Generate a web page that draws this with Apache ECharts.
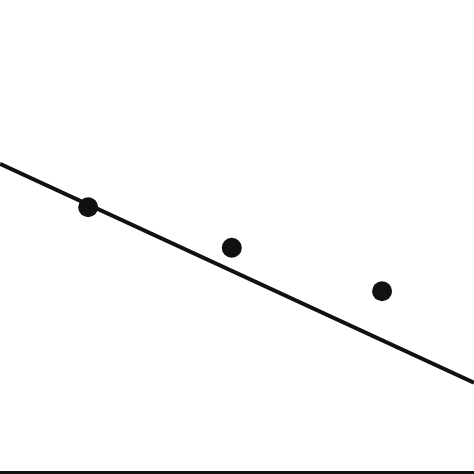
<!DOCTYPE html>
<html>
<head>
<meta charset="utf-8">
<script src="https://cdn.jsdelivr.net/npm/echarts@6/dist/echarts.min.js"></script>
<style>
  html, body { margin: 0; padding: 0; background: #fff; }
  #main { width: 474px; height: 474px; }
</style>
</head>
<body>
<div id="main"></div>
<script>
// data points and fitted line
var pointsX = [1.86, 4.89, 8.06]
var pointsY = [5.61, 4.75, 3.83]
var lineX = [0, 10]
var lineY = [6.53, 1.89]

var points = pointsX.map(function(x, i) { return [x, pointsY[i]] })
var fit = lineX.map(function(x, i) { return [x, lineY[i]] })

var myChart = echarts.init(document.querySelector('#main'))
var option = {
    backgroundColor: '#fff',
    animation: false,
    grid: { left: 0, right: 0, top: 0, bottom: 2 },
    xAxis: {
        type: 'value',
        min: 0,
        max: 10,
        axisLine: { show: true, onZero: false, lineStyle: { color: '#111', width: 3 } },
        axisTick: { show: false },
        axisLabel: { show: false },
        splitLine: { show: false }
    },
    yAxis: {
        type: 'value',
        min: 0,
        max: 10,
        axisLine: { show: false },
        axisTick: { show: false },
        axisLabel: { show: false },
        splitLine: { show: false }
    },
    series: [
        {
            type: 'line',
            data: fit,
            symbol: 'none',
            lineStyle: { color: '#111', width: 4 }
        },
        {
            type: 'scatter',
            data: points,
            symbolSize: 20,
            itemStyle: { color: '#111', opacity: 1 }
        }
    ]
}
myChart.setOption(option)
</script>
</body>
</html>
